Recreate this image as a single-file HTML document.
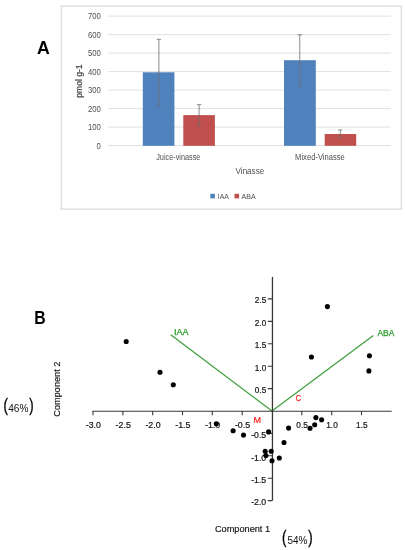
<!DOCTYPE html>
<html><head><meta charset="utf-8"><title>Figure</title>
<style>html,body{margin:0;padding:0;background:#fff}svg{display:block}text{font-family:"Liberation Sans",sans-serif}</style></head><body>
<svg width="405" height="550" viewBox="0 0 405 550">
<rect width="405" height="550" fill="#fff"/>
<rect x="61.4" y="6.1" width="339.9" height="203.1" fill="#fff" stroke="#dedede" stroke-width="1.4"/>
<line x1="108.3" x2="390.8" y1="145.6" y2="145.6" stroke="#e0e0e0" stroke-width="1"/>
<text x="100.8" y="148.5" font-size="8.3" fill="#505050" text-anchor="end" textLength="4.3" lengthAdjust="spacingAndGlyphs">0</text>
<line x1="108.3" x2="390.8" y1="127.1" y2="127.1" stroke="#e0e0e0" stroke-width="1"/>
<text x="100.8" y="130.0" font-size="8.3" fill="#505050" text-anchor="end" textLength="12.9" lengthAdjust="spacingAndGlyphs">100</text>
<line x1="108.3" x2="390.8" y1="108.6" y2="108.6" stroke="#e0e0e0" stroke-width="1"/>
<text x="100.8" y="111.5" font-size="8.3" fill="#505050" text-anchor="end" textLength="12.9" lengthAdjust="spacingAndGlyphs">200</text>
<line x1="108.3" x2="390.8" y1="90.1" y2="90.1" stroke="#e0e0e0" stroke-width="1"/>
<text x="100.8" y="93.0" font-size="8.3" fill="#505050" text-anchor="end" textLength="12.9" lengthAdjust="spacingAndGlyphs">300</text>
<line x1="108.3" x2="390.8" y1="71.6" y2="71.6" stroke="#e0e0e0" stroke-width="1"/>
<text x="100.8" y="74.5" font-size="8.3" fill="#505050" text-anchor="end" textLength="12.9" lengthAdjust="spacingAndGlyphs">400</text>
<line x1="108.3" x2="390.8" y1="53.1" y2="53.1" stroke="#e0e0e0" stroke-width="1"/>
<text x="100.8" y="56.0" font-size="8.3" fill="#505050" text-anchor="end" textLength="12.9" lengthAdjust="spacingAndGlyphs">500</text>
<line x1="108.3" x2="390.8" y1="34.6" y2="34.6" stroke="#e0e0e0" stroke-width="1"/>
<text x="100.8" y="37.5" font-size="8.3" fill="#505050" text-anchor="end" textLength="12.9" lengthAdjust="spacingAndGlyphs">600</text>
<line x1="108.3" x2="390.8" y1="16.1" y2="16.1" stroke="#e0e0e0" stroke-width="1"/>
<text x="100.8" y="19.0" font-size="8.3" fill="#505050" text-anchor="end" textLength="12.9" lengthAdjust="spacingAndGlyphs">700</text>
<rect x="142.8" y="72.3" width="31.6" height="73.5" fill="#4f81bd"/>
<rect x="183.3" y="115.1" width="31.6" height="30.7" fill="#c0504d"/>
<rect x="284.0" y="60.2" width="31.8" height="85.6" fill="#4f81bd"/>
<rect x="324.7" y="134.0" width="31.5" height="11.8" fill="#c0504d"/>
<path d="M158.9 39.3V105.7M156.70000000000002 39.3H161.1M156.70000000000002 105.7H161.1" stroke="#6e6e6e" stroke-width="0.8" fill="none"/>
<path d="M199.1 104.7V125.7M196.9 104.7H201.29999999999998M196.9 125.7H201.29999999999998" stroke="#6e6e6e" stroke-width="0.8" fill="none"/>
<path d="M299.8 34.8V86.2M297.6 34.8H302.0M297.6 86.2H302.0" stroke="#6e6e6e" stroke-width="0.8" fill="none"/>
<path d="M340.3 130.0V137.7M338.1 130.0H342.5M338.1 137.7H342.5" stroke="#6e6e6e" stroke-width="0.8" fill="none"/>
<text x="156.2" y="159.8" font-size="8.5" fill="#505050" textLength="44.2" lengthAdjust="spacingAndGlyphs">Juice-vinasse</text>
<text x="295.1" y="159.8" font-size="8.5" fill="#505050" textLength="49.7" lengthAdjust="spacingAndGlyphs">Mixed-Vinasse</text>
<text x="235.6" y="174.2" font-size="9.3" fill="#505050" textLength="28.6" lengthAdjust="spacingAndGlyphs">Vinasse</text>
<text transform="translate(82.2 97.7) rotate(-90)" font-size="8.6" fill="#3a3a3a" stroke="#3a3a3a" stroke-width="0.15" textLength="33.2" lengthAdjust="spacingAndGlyphs">pmol g-1</text>
<rect x="210.3" y="193.8" width="4.6" height="4.6" fill="#4f81bd"/>
<text x="217.8" y="198.9" font-size="8" fill="#505050" textLength="11.2" lengthAdjust="spacingAndGlyphs">IAA</text>
<rect x="234.5" y="193.8" width="4.6" height="4.6" fill="#c0504d"/>
<text x="241.5" y="198.9" font-size="8" fill="#505050" textLength="14.2" lengthAdjust="spacingAndGlyphs">ABA</text>
<text x="37.0" y="54.2" font-size="17.6" font-weight="bold" fill="#000" textLength="12.8" lengthAdjust="spacingAndGlyphs">A</text>
<text x="34.2" y="323.6" font-size="17.8" font-weight="bold" fill="#000" textLength="11.4" lengthAdjust="spacingAndGlyphs">B</text>
<text x="93.3" y="427.7" font-size="9.4" fill="#111" stroke="#111" stroke-width="0.2" text-anchor="middle" textLength="15.2" lengthAdjust="spacingAndGlyphs">-3.0</text>
<text x="123.2" y="427.7" font-size="9.4" fill="#111" stroke="#111" stroke-width="0.2" text-anchor="middle" textLength="15.2" lengthAdjust="spacingAndGlyphs">-2.5</text>
<text x="153.0" y="427.7" font-size="9.4" fill="#111" stroke="#111" stroke-width="0.2" text-anchor="middle" textLength="15.2" lengthAdjust="spacingAndGlyphs">-2.0</text>
<text x="182.8" y="427.7" font-size="9.4" fill="#111" stroke="#111" stroke-width="0.2" text-anchor="middle" textLength="15.2" lengthAdjust="spacingAndGlyphs">-1.5</text>
<text x="212.6" y="427.7" font-size="9.4" fill="#111" stroke="#111" stroke-width="0.2" text-anchor="middle" textLength="15.2" lengthAdjust="spacingAndGlyphs">-1.0</text>
<text x="242.5" y="427.7" font-size="9.4" fill="#111" stroke="#111" stroke-width="0.2" text-anchor="middle" textLength="15.2" lengthAdjust="spacingAndGlyphs">-0.5</text>
<text x="302.1" y="427.7" font-size="9.4" fill="#111" stroke="#111" stroke-width="0.2" text-anchor="middle" textLength="11.5" lengthAdjust="spacingAndGlyphs">0.5</text>
<text x="332.0" y="427.7" font-size="9.4" fill="#111" stroke="#111" stroke-width="0.2" text-anchor="middle" textLength="11.5" lengthAdjust="spacingAndGlyphs">1.0</text>
<text x="361.8" y="427.7" font-size="9.4" fill="#111" stroke="#111" stroke-width="0.2" text-anchor="middle" textLength="11.5" lengthAdjust="spacingAndGlyphs">1.5</text>
<text x="266.2" y="505.3" font-size="9.4" fill="#111" stroke="#111" stroke-width="0.2" text-anchor="end" textLength="15.0" lengthAdjust="spacingAndGlyphs">-2.0</text>
<text x="266.2" y="482.9" font-size="9.4" fill="#111" stroke="#111" stroke-width="0.2" text-anchor="end" textLength="15.0" lengthAdjust="spacingAndGlyphs">-1.5</text>
<text x="266.2" y="460.5" font-size="9.4" fill="#111" stroke="#111" stroke-width="0.2" text-anchor="end" textLength="15.0" lengthAdjust="spacingAndGlyphs">-1.0</text>
<text x="266.2" y="438.1" font-size="9.4" fill="#111" stroke="#111" stroke-width="0.2" text-anchor="end" textLength="15.0" lengthAdjust="spacingAndGlyphs">-0.5</text>
<text x="266.2" y="393.0" font-size="9.4" fill="#111" stroke="#111" stroke-width="0.2" text-anchor="end" textLength="11.4" lengthAdjust="spacingAndGlyphs">0.5</text>
<text x="266.2" y="370.6" font-size="9.4" fill="#111" stroke="#111" stroke-width="0.2" text-anchor="end" textLength="11.4" lengthAdjust="spacingAndGlyphs">1.0</text>
<text x="266.2" y="348.2" font-size="9.4" fill="#111" stroke="#111" stroke-width="0.2" text-anchor="end" textLength="11.4" lengthAdjust="spacingAndGlyphs">1.5</text>
<text x="266.2" y="325.8" font-size="9.4" fill="#111" stroke="#111" stroke-width="0.2" text-anchor="end" textLength="11.4" lengthAdjust="spacingAndGlyphs">2.0</text>
<text x="266.2" y="303.3" font-size="9.4" fill="#111" stroke="#111" stroke-width="0.2" text-anchor="end" textLength="11.4" lengthAdjust="spacingAndGlyphs">2.5</text>
<path d="M170.7 334.7L272.0 411.0L373.3 335.4" stroke="#3f9f3f" stroke-width="1.3" fill="none" stroke-linejoin="miter"/>
<text x="173.9" y="335.3" font-size="9" fill="#259a25" stroke="#259a25" stroke-width="0.25" textLength="14.5" lengthAdjust="spacingAndGlyphs">IAA</text>
<text x="377.4" y="335.7" font-size="9" fill="#259a25" stroke="#259a25" stroke-width="0.25" textLength="16.9" lengthAdjust="spacingAndGlyphs">ABA</text>
<path d="M92.5 411.25H391.7" stroke="#383838" stroke-width="1.15" fill="none"/><path d="M272.45 276.9V500.8" stroke="#383838" stroke-width="1.3" fill="none"/>
<path d="M93.0 411.0v4.3M122.9 411.0v4.3M152.7 411.0v4.3M182.5 411.0v4.3M212.3 411.0v4.3M242.2 411.0v4.3M301.8 411.0v4.3M331.7 411.0v4.3M361.5 411.0v4.3M272.0 500.6h-4.2M272.0 478.2h-4.2M272.0 455.8h-4.2M272.0 433.4h-4.2M272.0 388.6h-4.2M272.0 366.2h-4.2M272.0 343.8h-4.2M272.0 321.4h-4.2M272.0 298.9h-4.2" stroke="#383838" stroke-width="1.1" fill="none"/>
<text x="253.6" y="423.4" font-size="9" fill="#ff2020" stroke="#ff2020" stroke-width="0.2" textLength="7.6" lengthAdjust="spacingAndGlyphs">M</text>
<text x="295.7" y="401.1" font-size="9.4" fill="#ff2020" stroke="#ff2020" stroke-width="0.25" textLength="5.3" lengthAdjust="spacingAndGlyphs">C</text>
<circle cx="126.2" cy="341.5" r="2.55" fill="#000"/>
<circle cx="160" cy="372.3" r="2.55" fill="#000"/>
<circle cx="173.3" cy="384.7" r="2.55" fill="#000"/>
<circle cx="327.4" cy="306.6" r="2.55" fill="#000"/>
<circle cx="311.4" cy="357" r="2.55" fill="#000"/>
<circle cx="369.4" cy="355.8" r="2.55" fill="#000"/>
<circle cx="368.9" cy="370.9" r="2.55" fill="#000"/>
<circle cx="216.3" cy="423.7" r="2.55" fill="#000"/>
<circle cx="233.1" cy="430.8" r="2.55" fill="#000"/>
<circle cx="243.5" cy="435.1" r="2.55" fill="#000"/>
<circle cx="268.6" cy="431.9" r="2.55" fill="#000"/>
<circle cx="288.6" cy="428.1" r="2.55" fill="#000"/>
<circle cx="284" cy="442.5" r="2.55" fill="#000"/>
<circle cx="265.2" cy="451.3" r="2.55" fill="#000"/>
<circle cx="271.2" cy="451.3" r="2.55" fill="#000"/>
<circle cx="265.9" cy="455.6" r="2.55" fill="#000"/>
<circle cx="279.3" cy="458" r="2.55" fill="#000"/>
<circle cx="272" cy="460.8" r="2.55" fill="#000"/>
<circle cx="315.9" cy="417.6" r="2.55" fill="#000"/>
<circle cx="321.6" cy="419.7" r="2.55" fill="#000"/>
<circle cx="314.7" cy="424.7" r="2.55" fill="#000"/>
<circle cx="310" cy="428.3" r="2.55" fill="#000"/>
<text x="214.9" y="532.0" font-size="9" fill="#111" stroke="#111" stroke-width="0.15" textLength="55.2" lengthAdjust="spacingAndGlyphs">Component 1</text>
<text transform="translate(60.4 416.7) rotate(-90)" font-size="9" fill="#111" stroke="#111" stroke-width="0.15" textLength="55.1" lengthAdjust="spacingAndGlyphs">Component 2</text>
<text x="3.4" y="410.9" font-size="18.5" fill="#000" stroke="#000" stroke-width="0.35" textLength="4.4" lengthAdjust="spacingAndGlyphs">(</text>
<text x="29.3" y="410.9" font-size="18.5" fill="#000" stroke="#000" stroke-width="0.35" textLength="4.4" lengthAdjust="spacingAndGlyphs">)</text>
<text x="8.2" y="411.9" font-size="10.6" fill="#111" textLength="20.2" lengthAdjust="spacingAndGlyphs">46%</text>
<text x="281.9" y="543.1" font-size="18.5" fill="#000" stroke="#000" stroke-width="0.35" textLength="4.4" lengthAdjust="spacingAndGlyphs">(</text>
<text x="308.2" y="543.1" font-size="18.5" fill="#000" stroke="#000" stroke-width="0.35" textLength="4.4" lengthAdjust="spacingAndGlyphs">)</text>
<text x="287.5" y="543.8" font-size="10.6" fill="#111" textLength="19.9" lengthAdjust="spacingAndGlyphs">54%</text>
</svg></body></html>
